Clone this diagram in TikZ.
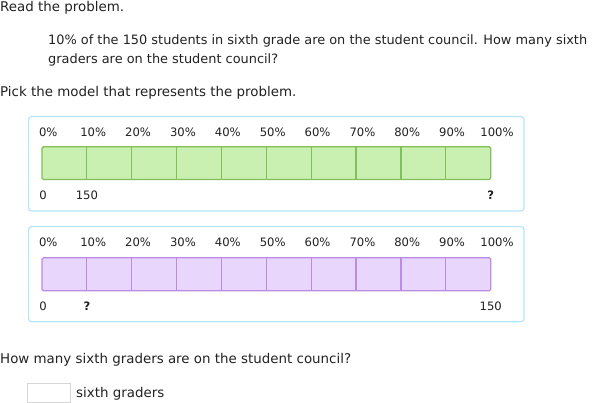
\documentclass[tikz,border=0pt]{standalone}
\usepackage{fontspec}
\setmainfont{DejaVu Sans}
\definecolor{txt}{HTML}{222222}
\definecolor{panelb}{HTML}{B3E5FC}
\definecolor{gfill}{HTML}{C9F0B0}
\definecolor{gline}{HTML}{82BE5A}
\definecolor{pfill}{HTML}{E8D6FC}
\definecolor{pline}{HTML}{BA8CE3}
\definecolor{ansb}{HTML}{D6D6D6}
\begin{document}
\begin{tikzpicture}[x=1pt,y=-1pt,
  main/.style={font=\fontsize{13.4}{16}\selectfont, text=txt, inner sep=0pt, anchor=base west},
  prob/.style={font=\fontsize{12.9}{16}\selectfont, text=txt, inner sep=0pt, anchor=base west},
  lbl/.style={font=\fontsize{11.6}{14}\selectfont, text=txt, inner sep=0pt, anchor=base},
  qm/.style={font=\fontsize{11.6}{14}\selectfont\bfseries, text=txt, inner sep=0pt, anchor=base},
  panel/.style={draw=panelb, line width=1.2pt, rounded corners=3pt, fill=white},
  gbar/.style={draw=gline, fill=gfill, line width=1.2pt, rounded corners=1.5pt},
  pbar/.style={draw=pline, fill=pfill, line width=1.2pt, rounded corners=1.5pt}
]
\useasboundingbox (0,0) rectangle (600,403);
\node[main] (t1) at (0,12) {Read the problem.};
\node[prob] (p1) at (48,45) {10\% of the 150 students in sixth grade are on the student council. How many sixth};
\node[prob] (p2) at (48,64) {graders are on the student council?};
\node[main] (t2) at (0,97) {Pick the model that represents the problem.};

% panel 1
\draw[panel] (28.6,116.6) rectangle (524,211);
\draw[gbar] (42,146.7) rectangle (490.7,179.5);
\foreach \i in {1,...,9}{
  \draw[gline, line width=1.2pt] ({42+44.87*\i},146.7) -- ({42+44.87*\i},179.5);
}
\foreach \i in {0,...,10}{
  \pgfmathtruncatemacro{\pc}{10*\i}
  \node[lbl] (a\i) at ({48.3+44.87*\i},137) {\pc\%};
}
\node[lbl] (a0v) at (43,200) {0};
\node[lbl] (a1v) at (86.9,200) {150};
\node[qm] (a10v) at (490.7,200) {?};

% panel 2
\draw[panel] (28.6,226.6) rectangle (524,321.7);
\draw[pbar] (42,257.7) rectangle (490.7,290.7);
\foreach \i in {1,...,9}{
  \draw[pline, line width=1.2pt] ({42+44.87*\i},257.7) -- ({42+44.87*\i},290.7);
}
\foreach \i in {0,...,10}{
  \pgfmathtruncatemacro{\pc}{10*\i}
  \node[lbl] (b\i) at ({48.3+44.87*\i},247) {\pc\%};
}
\node[lbl] (b0v) at (43,310.7) {0};
\node[qm] (b1v) at (86.9,310.7) {?};
\node[lbl] (b10v) at (490.7,310.7) {150};

\node[main] (t3) at (0,363) {How many sixth graders are on the student council?};
\draw[ansb, line width=0.8pt] (27.5,383.5) rectangle (70.5,402.5);
\node[main] (t4) at (76,398) {sixth graders};
\end{tikzpicture}
\end{document}
